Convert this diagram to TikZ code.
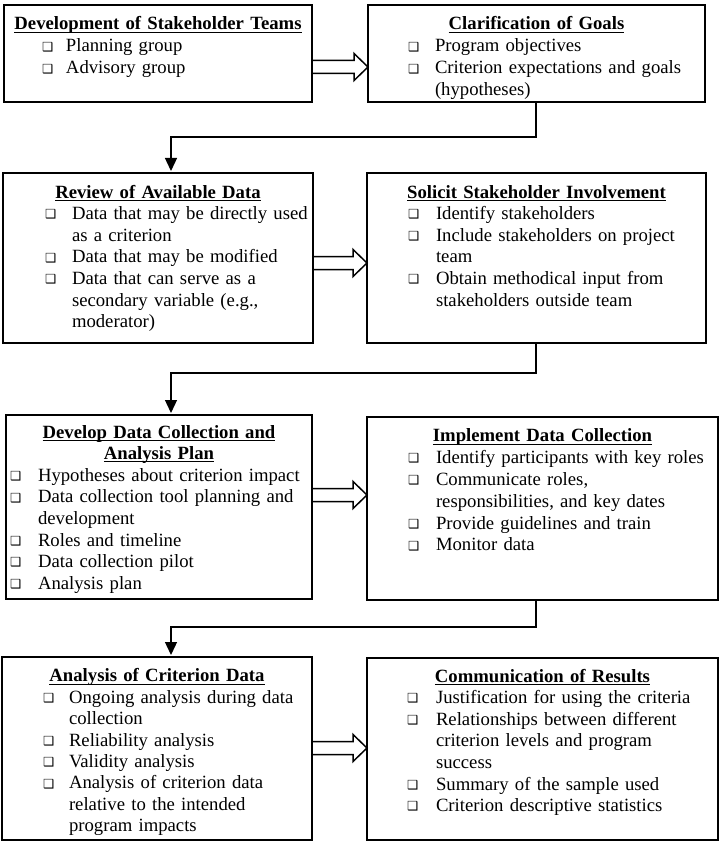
\documentclass[tikz,border=0pt]{standalone}
\usepackage{fontspec}
\setmainfont{Liberation Serif}
\newfontfamily\dvsans{DejaVu Sans}
\usetikzlibrary{arrows.meta,calc}
\newlength\myind
\newcommand\bul{\raisebox{0.8pt}{\fontsize{12.5}{12.5}\selectfont\dvsans ❑}}
\newcommand\itm[1]{\par\noindent\hangindent=\myind\hangafter=1\relax\makebox[\myind][l]{\bul}#1\par}
\newcommand\ul[1]{\leavevmode\setbox0\hbox{#1}\rlap{\rule[-2.8pt]{\wd0}{1.2pt}}\box0}
\newcommand\boxtext[4]{\raggedright\hyphenpenalty=10000 {\centering\bfseries\strut#3\par}\leftskip=#1pt\relax\myind=#2pt\relax\let\\\newline#4}
\newcommand\harrow[3]{%
  \coordinate (hy) at (0,#3);
  \coordinate (ha) at (#1.east |- hy);
  \coordinate (hb) at (#2.west |- hy);
  \draw[hollow] ($(ha)+(0,-6.5)$) -- ($(hb)+(-14,-6.5)$) -- ($(hb)+(-14,-13.5)$) -- (hb) -- ($(hb)+(-14,13.5)$) -- ($(hb)+(-14,6.5)$) -- ($(ha)+(0,6.5)$);}
\begin{document}
\begin{tikzpicture}[x=1pt,y=-1pt,
  box/.style={draw,line width=1.8pt,anchor=north west,inner sep=0pt,outer sep=0pt},
  txt/.style={anchor=north west,inner sep=0pt,outer sep=0pt},
  hollow/.style={line width=1.5pt,line join=miter},
  conn/.style={line width=1.3pt,-{Triangle[width=12pt,length=13pt]},shorten >=2pt}]
\fill[white] (0,0) rectangle (720,842);
\useasboundingbox (0,0) rectangle (720,842);
% boxes
\node[box,minimum width=308pt,minimum height=97pt] (b1) at (4,5) {};
\node[box,minimum width=337pt,minimum height=97pt] (b2) at (368,5) {};
\node[box,minimum width=310pt,minimum height=170pt] (b3) at (3,173) {};
\node[box,minimum width=339pt,minimum height=170pt] (b4) at (367,173) {};
\node[box,minimum width=306pt,minimum height=184pt] (b5) at (6,415) {};
\node[box,minimum width=351pt,minimum height=183pt] (b6) at (367,417) {};
\node[box,minimum width=310pt,minimum height=183pt] (b7) at (2,657) {};
\node[box,minimum width=351pt,minimum height=182pt] (b8) at (367,658) {};
% texts
\node[txt,text width=308pt,font=\fontsize{18.7}{22}\selectfont] (t1) at (4,14.6)
 {\boxtext{38}{24}{\ul{Development of Stakeholder Teams}}{\itm{Planning group}\itm{Advisory group}}};
\node[txt,text width=337pt,font=\fontsize{18.7}{22}\selectfont] (t2) at (368,14.6)
 {\boxtext{40}{27}{\ul{Clarification of Goals}}{\itm{Program objectives}\itm{Criterion expectations and goals\\(hypotheses)}}};
\node[txt,text width=310pt,font=\fontsize{18.7}{21.6}\selectfont] (t3) at (3,182.9)
 {\boxtext{42}{27}{\ul{Review of Available Data}}{\itm{Data that may be directly used\\as a criterion}\itm{Data that may be modified}\itm{Data that can serve as a\\secondary variable (e.g.,\\moderator)}}};
\node[txt,text width=339pt,font=\fontsize{18.7}{21.6}\selectfont] (t4) at (367,182.9)
 {\boxtext{41}{28}{\ul{Solicit Stakeholder Involvement}}{\itm{Identify stakeholders}\itm{Include stakeholders on project\\team}\itm{Obtain methodical input from\\stakeholders outside team}}};
\node[txt,text width=306pt,font=\fontsize{18.7}{21.6}\selectfont] (t5) at (6,422.9)
 {\boxtext{4}{28}{\ul{Develop Data Collection and}\\\ul{Analysis Plan}}{\itm{Hypotheses about criterion impact}\itm{Data collection tool planning and\\development}\itm{Roles and timeline}\itm{Data collection pilot}\itm{Analysis plan}}};
\node[txt,text width=351pt,font=\fontsize{18.7}{21.8}\selectfont] (t6) at (367,426.7)
 {\boxtext{41}{28}{\ul{Implement Data Collection}}{\itm{Identify participants with key roles}\itm{Communicate roles,\\responsibilities, and key dates}\itm{Provide guidelines and train}\itm{Monitor data}}};
\node[txt,text width=310pt,font=\fontsize{18.7}{21.4}\selectfont] (t7) at (2,667)
 {\boxtext{41}{26}{\ul{Analysis of Criterion Data}}{\itm{Ongoing analysis during data\\collection}\itm{Reliability analysis}\itm{Validity analysis}\itm{Analysis of criterion data\\relative to the intended\\program impacts}}};
\node[txt,text width=351pt,font=\fontsize{18.7}{21.6}\selectfont] (t8) at (367,666.9)
 {\boxtext{40}{29}{\ul{Communication of Results}}{\itm{Justification for using the criteria}\itm{Relationships between different\\criterion levels and program\\success}\itm{Summary of the sample used}\itm{Criterion descriptive statistics}}};
% hollow arrows
\harrow{b1}{b2}{67}
\harrow{b3}{b4}{263}
\harrow{b5}{b6}{495}
\harrow{b7}{b8}{748}
% connectors
\coordinate (k1) at (536,137); \coordinate (k2) at (171,137);
\draw[conn] (b2.south -| k1) -- (k1) -- (k2) -- (b3.north -| k2);
\coordinate (k3) at (536,373); \coordinate (k4) at (171,373);
\draw[conn] (b4.south -| k3) -- (k3) -- (k4) -- (b5.north -| k4);
\coordinate (k5) at (536,627); \coordinate (k6) at (171,627);
\draw[conn] (b6.south -| k5) -- (k5) -- (k6) -- (b7.north -| k6);
\end{tikzpicture}
\end{document}
